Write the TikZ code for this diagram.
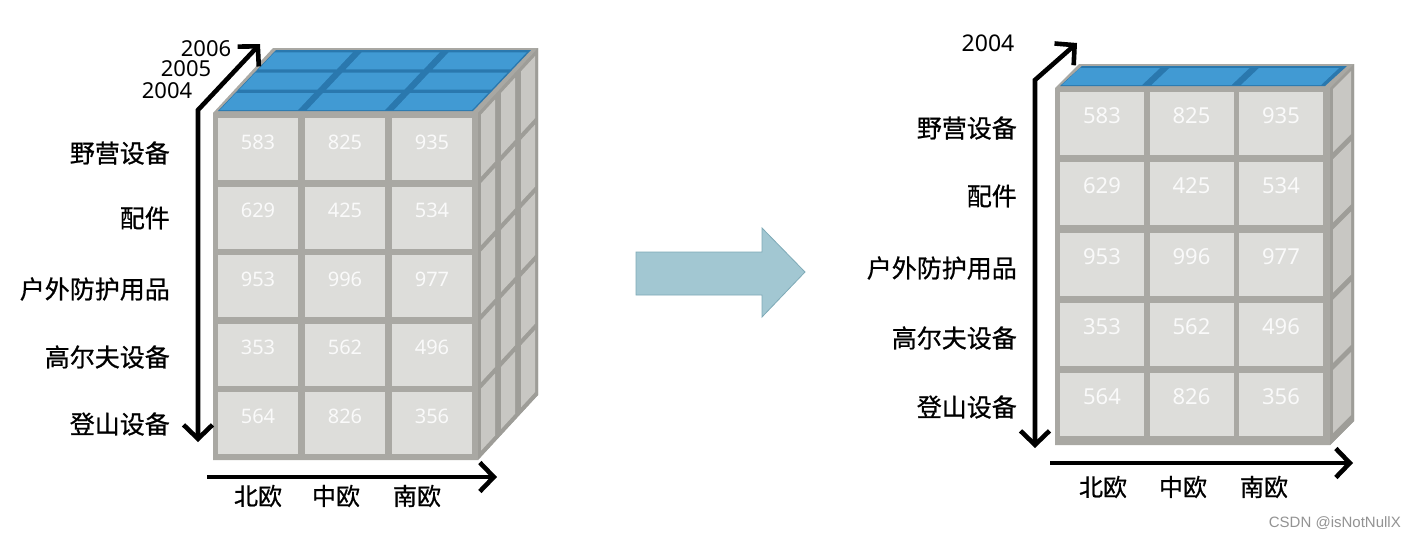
\documentclass[tikz,border=0pt]{standalone}
\usepackage{fontspec}
\setmainfont{Noto Sans}
\newfontfamily\cjk[FakeBold=0.7]{Noto Sans CJK SC}
\newfontfamily\wmfont{Liberation Sans}
\usetikzlibrary{arrows.meta}

\definecolor{rim}{HTML}{A9A8A3}
\definecolor{cellgray}{HTML}{DDDDDA}
\definecolor{sidegray}{HTML}{C8C7C3}
\definecolor{sidedark}{HTML}{9E9D98}
\definecolor{topblue}{HTML}{419AD3}
\definecolor{topdark}{HTML}{2A78AE}
\definecolor{arrowfill}{HTML}{A2C7D2}
\definecolor{arrowline}{HTML}{7EAAB7}

\begin{document}
\begin{tikzpicture}[x=1pt,y=-1pt,>={Straight Barb[length=14pt,width=29pt]},
    axis/.style={line width=4.6pt},
    rowlab/.style={font=\cjk\fontsize{25}{25}\selectfont,anchor=east,inner sep=0pt},
    collab/.style={font=\cjk\fontsize{24}{24}\selectfont,inner sep=0pt},
    year/.style={font=\fontsize{22}{22}\selectfont,inner sep=0pt},
    cell/.style={fill=cellgray,minimum width=80pt,minimum height=62pt,inner sep=0pt,
        text=white!96!gray,font=\fontsize{20}{20}\selectfont,text height=14pt,text depth=14pt}]
    \fill[white] (0,0) rectangle (1413,539);
    \useasboundingbox (0,0) rectangle (1413,539);

    % left cube
    \fill[rim] (213,113) -- (273,48) -- (538,48) -- (538,395) -- (478,460) -- (213,460) -- cycle;
    \fill[sidedark] (478,113) -- (538,48) -- (538,395) -- (478,460) -- cycle;
    \foreach \k in {0,1,2}
        \foreach \j in {0,...,4}
            \fill[sidegray] ({481+20*\k},{114.7+68.5*\j-21.67*\k}) -- ++(14,-15.2) -- ++(0,62) -- ++(-14,15.2) -- cycle;
    \fill[topdark] (218,111) -- (473,111) -- (531,50) -- (276,50) -- cycle;
    \foreach \i in {0,1,2}
        \foreach \k in {0,1,2}
            \fill[topblue] ({220+87*\i+19.3*\k},{110-20.3*\k}) -- ++(78,0) -- ++(16,-17) -- ++(-78,0) -- cycle;
    \foreach \a/\b/\c [count=\j from 0] in {583/825/935,629/425/534,953/996/977,353/562/496,564/826/356}
        \foreach \v [count=\i from 0] in {\a,\b,\c}
            \node[cell] (l\j\i) at ({258+87*\i},{149+68.5*\j}) {\v};

    % left axes
    \coordinate (lyb) at (198,442);
    \coordinate (lyc) at (198,110);
    \coordinate (lyt) at (260,44);
    \coordinate (lxa) at (207,477);
    \coordinate (lxb) at (497,477);
    \draw[axis,<->] (lyb) -- (lyc) -- (lyt);
    \draw[axis,->] (lxa) -- (lxb);
    \node[year] (l2006) at (206,49) {2006};
    \node[year] (l2005) at (186,69) {2005};
    \node[year] (l2004) at (167,91) {2004};
    \foreach \t/\y [count=\n] in {野营设备/153,配件/218,户外防护用品/289,高尔夫设备/357,登山设备/424}
        \node[rowlab] (lrow\n) at (170,\y) {\t};
    \foreach \t/\x [count=\n] in {北欧/258,中欧/336,南欧/417}
        \node[collab] (lcol\n) at (\x,496) {\t};

    % middle arrow
    \filldraw[fill=arrowfill,draw=arrowline,line width=0.8pt]
        (636,252) -- (762,252) -- (762,228) -- (805,272) -- (762,317) -- (762,295) -- (636,295) -- cycle;

    % right cube
    \fill[rim] (1055,88) -- (1079,64) -- (1354,64) -- (1354,421) -- (1330,445) -- (1055,445) -- cycle;
    \fill[sidedark] (1330,88) -- (1354,64) -- (1354,421) -- (1330,445) -- cycle;
    \foreach \j in {0,...,4}
        \fill[sidegray] (1333,{89+70.25*\j}) -- ++(18,-18) -- ++(0,63) -- ++(-18,18) -- cycle;
    \fill[topdark] (1060,86) -- (1325,86) -- (1347,66) -- (1082,66) -- cycle;
    \foreach \i in {0,1,2}
        \fill[topblue] ({1062+89.5*\i},85) -- ++(80,0) -- ++(18,-17) -- ++(-80,0) -- cycle;
    \foreach \a/\b/\c [count=\j from 0] in {583/825/935,629/425/534,953/996/977,353/562/496,564/826/356}
        \foreach \v [count=\i from 0] in {\a,\b,\c}
            \node[cell,minimum width=84pt,minimum height=63pt,font=\fontsize{22}{22}\selectfont] (r\j\i) at ({1102+89.5*\i},{123.5+70.25*\j}) {\v};

    % right axes
    \coordinate (ryb) at (1035,448);
    \coordinate (ryc) at (1035,80);
    \coordinate (ryt) at (1077,43);
    \coordinate (rxa) at (1050,463);
    \coordinate (rxb) at (1353,463);
    \draw[axis,<->] (ryb) -- (ryc) -- (ryt);
    \draw[axis,->] (rxa) -- (rxb);
    \node[year,font=\fontsize{23}{23}\selectfont] (r2004) at (988,43) {2004};
    \foreach \t/\y [count=\n] in {野营设备/128,配件/196,户外防护用品/268,高尔夫设备/338,登山设备/407}
        \node[rowlab] (rrow\n) at (1017,\y) {\t};
    \foreach \t/\x [count=\n] in {北欧/1103,中欧/1183,南欧/1264}
        \node[collab] (rcol\n) at (\x,487) {\t};

    \node[font=\wmfont\fontsize{15}{15}\selectfont,text=gray!85,anchor=east,inner sep=0pt] (wm) at (1401,523) {CSDN @isNotNullX};
\end{tikzpicture}
\end{document}
